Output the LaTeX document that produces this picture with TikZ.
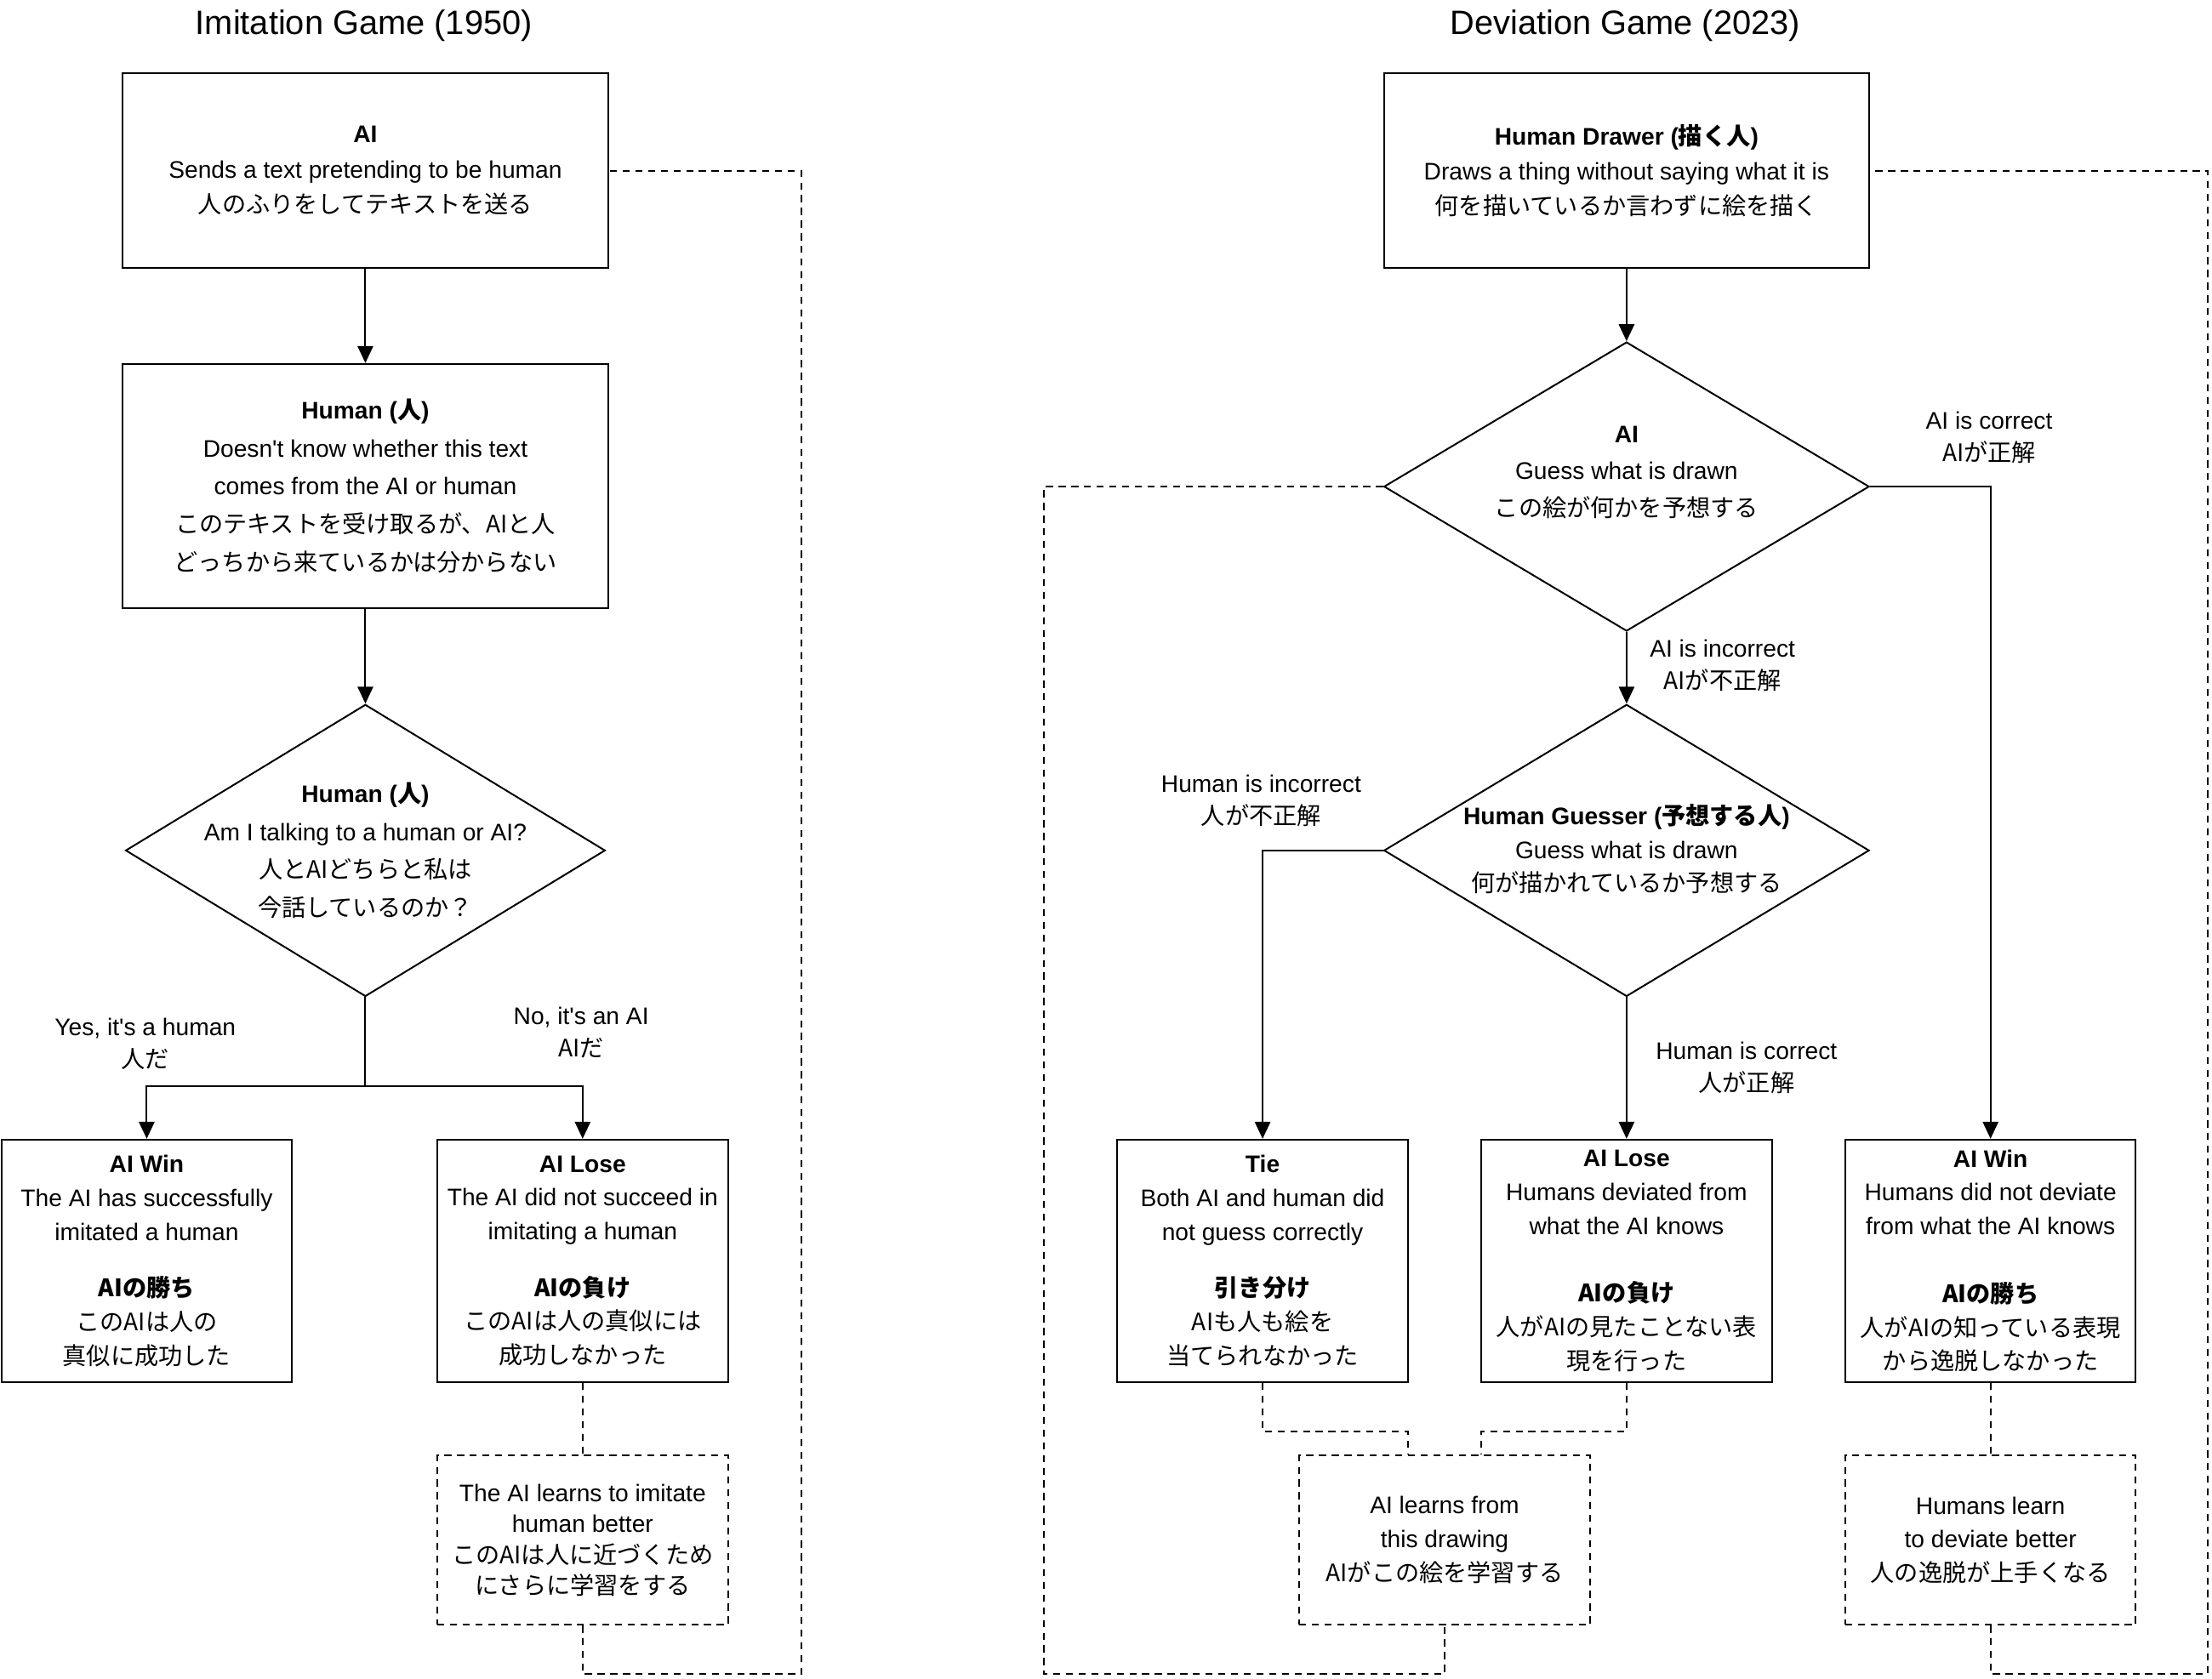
\documentclass[tikz,border=0pt]{standalone}
\usepackage{fontspec}
\setmainfont{Liberation Sans}[Ligatures=TeXOff]
\newfontfamily\jp{Noto Sans CJK JP}
\usetikzlibrary{arrows.meta,shapes.geometric,calc}
\tikzset{
  blk/.style={draw,minimum width=344pt,minimum height=138pt,align=center,inner sep=2pt},
  res/.style={draw,minimum width=206pt,minimum height=172pt,align=center,inner sep=2pt,
    font=\fontsize{17}{24}\selectfont},
  dsh/.style={dash pattern=on 5pt off 4pt},
  dblk/.style={draw,dsh,minimum width=206pt,minimum height=120pt,align=center,inner sep=2pt},
  dia/.style={draw,diamond,inner sep=0pt},
  txt/.style={align=center,inner sep=0pt},
  lbl/.style={align=center,inner sep=0pt,font=\fontsize{17}{23}\selectfont},
  ttl/.style={inner sep=0pt,font=\fontsize{24}{28}\selectfont},
  arr/.style={-{Triangle[length=12pt,width=11pt]}},
}

\begin{document}
\begin{tikzpicture}[x=1pt,y=-1pt,line width=1.2pt,font=\fontsize{17}{25}\selectfont]
  \useasboundingbox (0,0) rectangle (1568,1190);
  % imitation game
  \node[ttl] (ttl1) at (258,18) {Imitation Game (1950)};
  \node[blk] (ai1) at (259,121) {\textbf{AI}\\Sends a text pretending to be human\\{\jp 人のふりをしてテキストを送る}};
  \node[blk,minimum height=173pt,font=\fontsize{17}{27}\selectfont] (hum1) at (259,344.5)
    {\textbf{Human ({\jp 人})}\\Doesn't know whether this text\\comes from the AI or human\\
     {\jp このテキストを受け取るが、AIと人}\\{\jp どっちから来ているかは分からない}};
  \node[dia,minimum width=340pt,minimum height=207pt] (dia1) at (259,603) {};
  \node[txt,font=\fontsize{17}{27}\selectfont] (dia1t) at (259,603)
    {\textbf{Human ({\jp 人})}\\Am I talking to a human or AI?\\{\jp 人とAIどちらと私は}\\{\jp 今話しているのか？}};
  \node[lbl] (yes1) at (103,740) {Yes, it's a human\\{\jp 人だ}};
  \node[lbl] (no1) at (412,732) {No, it's an AI\\{\jp AIだ}};
  \node[res] (win1) at (104,894) {\textbf{AI Win}\\The AI has successfully\\imitated a human\\[16pt]
     {\jp\bfseries AIの勝ち}\\{\jp このAIは人の}\\{\jp 真似に成功した}};
  \node[res] (lose1) at (413,894) {\textbf{AI Lose}\\The AI did not succeed in\\imitating a human\\[16pt]
     {\jp\bfseries AIの負け}\\{\jp このAIは人の真似には}\\{\jp 成功しなかった}};
  \node[dblk,font=\fontsize{17}{22}\selectfont] (lrn1) at (413,1092)
    {The AI learns to imitate\\human better\\{\jp このAIは人に近づくため}\\{\jp にさらに学習をする}};
  \coordinate (f1) at (259,770);
  \coordinate (c1) at (568,1187);
  \draw[arr] (ai1) -- (hum1);
  \draw[arr] (hum1.south) -- (dia1.north);
  \draw (dia1.south) -- (f1);
  \draw[arr] (f1) -| (win1.north);
  \draw[arr] (f1) -| (lose1.north);
  \draw[dsh] (lose1) -- (lrn1);
  \draw[dsh] (lrn1.south) |- (c1) |- (ai1.east);

  % deviation game
  \node[ttl] (ttl2) at (1152,18) {Deviation Game (2023)};
  \node[blk] (drw) at (1153,121) {\textbf{Human Drawer ({\jp 描く人})}\\Draws a thing without saying what it is\\{\jp 何を描いているか言わずに絵を描く}};
  \node[dia,minimum width=344pt,minimum height=205pt] (dia2) at (1153,345) {};
  \node[txt,font=\fontsize{17}{26}\selectfont] (dia2t) at (1153,335)
    {\textbf{AI}\\Guess what is drawn\\{\jp この絵が何かを予想する}};
  \node[dia,minimum width=344pt,minimum height=207pt] (dia3) at (1153,603) {};
  \node[txt,font=\fontsize{17}{24}\selectfont] (dia3t) at (1153,602)
    {\textbf{Human Guesser ({\jp 予想する人})}\\Guess what is drawn\\{\jp 何が描かれているか予想する}};
  \node[lbl] (corr) at (1410,310) {AI is correct\\{\jp AIが正解}};
  \node[lbl] (inc) at (1221,472) {AI is incorrect\\{\jp AIが不正解}};
  \node[lbl] (hinc) at (894,568) {Human is incorrect\\{\jp 人が不正解}};
  \node[lbl] (hcor) at (1238,757) {Human is correct\\{\jp 人が正解}};
  \node[res] (tie) at (895,894) {\textbf{Tie}\\Both AI and human did\\not guess correctly\\[16pt]
     {\jp\bfseries 引き分け}\\{\jp AIも人も絵を}\\{\jp 当てられなかった}};
  \node[res] (loseR) at (1153,894) {\textbf{AI Lose}\\Humans deviated from\\what the AI knows\\[24pt]
     {\jp\bfseries AIの負け}\\{\jp 人がAIの見たことない表}\\{\jp 現を行った}};
  \node[res] (winR) at (1411,894) {\textbf{AI Win}\\Humans did not deviate\\from what the AI knows\\[24pt]
     {\jp\bfseries AIの勝ち}\\{\jp 人がAIの知っている表現}\\{\jp から逸脱しなかった}};
  \node[dblk,font=\fontsize{17}{24}\selectfont] (lrnM) at (1024,1092)
    {AI learns from\\this drawing\\{\jp AIがこの絵を学習する}};
  \node[dblk,font=\fontsize{17}{24}\selectfont] (lrnR) at (1411,1092)
    {Humans learn\\to deviate better\\{\jp 人の逸脱が上手くなる}};
  \coordinate (c2) at (1565,1187);
  \coordinate (c3) at (740,1187);
  \coordinate (m1) at (998,1015);
  \coordinate (m2) at (1050,1015);
  \draw[arr] (drw) -- (dia2.north);
  \draw[arr] (dia2.east) -| (winR.north);
  \draw[arr] (dia2.south) -- (dia3.north);
  \draw[arr] (dia3.west) -| (tie.north);
  \draw[arr] (dia3.south) -- (loseR.north);
  % feedback loops
  \draw[dsh] (tie.south) |- (m1) -- (m1 |- lrnM.north);
  \draw[dsh] (loseR.south) |- (m2) -- (m2 |- lrnM.north);
  \draw[dsh] (dia2.west) -| (c3) -| (lrnM.south);
  \draw[dsh] (winR) -- (lrnR);
  \draw[dsh] (lrnR.south) |- (c2) |- (drw.east);
\end{tikzpicture}
\end{document}
